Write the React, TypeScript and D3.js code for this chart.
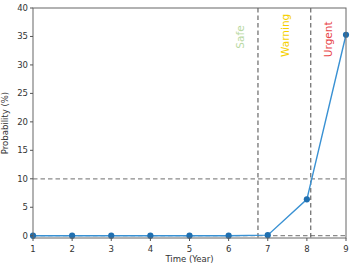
import React from "react";
import * as d3 from "d3";

const years = [1, 2, 3, 4, 5, 6, 7, 8, 9];
const probability = [0, 0, 0, 0, 0, 0, 0.1, 6.4, 35.3];
const xTicks = [1, 2, 3, 4, 5, 6, 7, 8, 9];
const yTicks = [0, 5, 10, 15, 20, 25, 30, 35, 40];
const hLines = [0, 10];
const vLines = [6.75, 8.1];
const zoneLabels = ["Safe", "Warning", "Urgent"];
const zoneColors = ["#b9d9a3", "#f5d000", "#e8464a"];

const W = 350;
const H = 267;
const m = { left: 33, right: 4, top: 8, bottom: 29 };
const font = "DejaVu Sans, sans-serif";

export default function App() {
  const x = d3.scaleLinear().domain([1, 9]).range([m.left, W - m.right]);
  const y = d3.scaleLinear().domain([-0.4, 40]).range([H - m.bottom, m.top]);
  const line = d3
    .line<number>()
    .x((_, i) => x(years[i]))
    .y((d) => y(d));

  // label placement: x in data units, y center in data units
  const labelPos = [
    { x: 6.29, y: 34.9 },
    { x: 7.44, y: 35.2 },
    { x: 8.54, y: 34.5 },
  ];

  return (
    <svg
      width={W}
      height={H}
      style={{ position: "absolute", left: 0, top: 0, background: "#fff" }}
      fontFamily={font}
    >
      {/* dashed reference lines */}
      {hLines.map((v) => (
        <line
          key={"h" + v}
          x1={x(1)}
          x2={x(9)}
          y1={y(v)}
          y2={y(v)}
          stroke="#8a8a8a"
          strokeWidth={1.2}
          strokeDasharray="4.5,3"
        />
      ))}
      {vLines.map((v) => (
        <line
          key={"v" + v}
          x1={x(v)}
          x2={x(v)}
          y1={y(40)}
          y2={y(-0.4)}
          stroke="#4a4a4a"
          strokeWidth={1}
          strokeDasharray="4.5,3"
        />
      ))}
      {/* zone labels */}
      {zoneLabels.map((t, i) => (
        <text
          key={t}
          transform={`translate(${x(labelPos[i].x)},${y(labelPos[i].y)}) rotate(-90)`}
          textAnchor="middle"
          dominantBaseline="central"
          fontSize={10.5}
          fill={zoneColors[i]}
        >
          {t}
        </text>
      ))}
      {/* data line */}
      <path d={line(probability) || ""} fill="none" stroke="#3991d3" strokeWidth={1.4} />
      {probability.map((v, i) => (
        <circle key={i} cx={x(years[i])} cy={y(v)} r={3.1} fill="#1f6fb0" />
      ))}
      {/* frame */}
      <rect
        x={x(1)}
        y={y(40)}
        width={x(9) - x(1)}
        height={y(-0.4) - y(40)}
        fill="none"
        stroke="#666"
        strokeWidth={1}
      />
      {/* x ticks */}
      {xTicks.map((t) => (
        <g key={"xt" + t}>
          <line x1={x(t)} x2={x(t)} y1={y(-0.4)} y2={y(-0.4) + 3} stroke="#555" />
          <text x={x(t)} y={251.5} textAnchor="middle" fontSize={8.5} fill="#333">
            {t}
          </text>
        </g>
      ))}
      {/* y ticks */}
      {yTicks.map((t) => (
        <g key={"yt" + t}>
          <line x1={x(1) - 3} x2={x(1)} y1={y(t)} y2={y(t)} stroke="#555" />
          <text
            x={x(1) - 5}
            y={y(t)}
            textAnchor="end"
            dominantBaseline="central"
            fontSize={8.5}
            fill="#333"
          >
            {t}
          </text>
        </g>
      ))}
      <text x={(x(1) + x(9)) / 2} y={262} textAnchor="middle" fontSize={8.5} fill="#333">
        Time (Year)
      </text>
      <text
        transform={`translate(8,${(y(40) + y(-0.4)) / 2}) rotate(-90)`}
        textAnchor="middle"
        fontSize={8.5}
        fill="#333"
      >
        Probability (%)
      </text>
    </svg>
  );
}
